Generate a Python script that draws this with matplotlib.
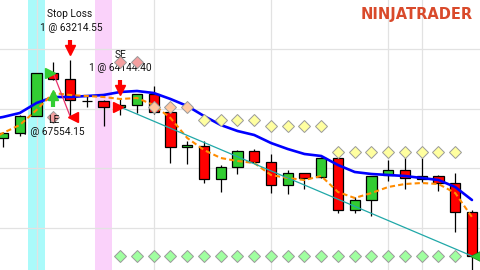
import numpy as np
import matplotlib
matplotlib.use("Agg")
import matplotlib.pyplot as plt

# candle data (price units), one entry per bar
opens  = [132, 137, 154, 197, 191, 169, 169, 163, 165, 176, 158, 123, 124, 91, 103,
          119, 108, 85, 97, 93, 112, 60, 70, 95, 100, 91, 94, 87, 58]
highs  = [138, 155, 197, 208, 210, 175, 170, 171, 176, 184, 158, 129, 129, 105, 120,
          121, 116, 100, 97, 113, 113, 73, 94, 110, 113, 112, 95, 97, 60]
lows   = [123, 134, 154, 190, 154, 163, 144, 155, 157, 156, 107, 106, 87, 78, 96,
          107, 77, 76, 81, 92, 57, 57, 54, 89, 81, 88, 79, 38, -5]
closes = [137, 154, 197, 191, 170, 169, 163, 165, 176, 158, 123, 125, 91, 103, 119,
          108, 85, 97, 92, 112, 60, 70, 94, 100, 92, 94, 87, 58, 14]

# indicator lines, starting one bar before the first candle
line_idx = list(range(-1, 29))
sma_blue = [150, 153, 157, 167, 173, 173, 174, 175, 178, 179, 177, 171, 164, 154, 145,
            139, 135, 127, 121, 116, 114, 105, 98, 96, 95, 94, 92, 90, 83, 70]
ema_orange = [128, 137, 145, 160, 177, 175, 174, 173, 171, 172, 165, 152, 132, 120, 112,
              109, 107, 95, 92, 90, 94, 78, 72, 77, 83, 86, 87, 86, 77, 53]

# trend line (start bar, start price, end bar, end price)
trend_x = [7, 28]
trend_y = [163, 14]

# trade line long entry -> stop loss exit
trade_x = [3, 4]
trade_y = [197, 154]

# diamond rows
pink_x, pink_y = [7, 8, 3], [208, 208, 153]
peach_x, peach_y = [9, 10, 11], [163, 163, 163]
yellow_x = list(range(12, 28))
yellow_y = [150, 150, 150, 150, 144, 144, 144, 144, 118, 118, 118, 118, 118, 118, 118, 118]
green_x = list(range(7, 28))
green_y = [14] * 21

# horizontal / vertical grid
hgrid = [221, 161, 102, 42]
vgrid = [2, 9, 16, 23, 25]

fig = plt.figure(figsize=(4.8, 2.7), dpi=100)
ax = fig.add_axes([0, 0, 1, 1])
ax.set_xlim(-0.18, 28.48)
ax.set_ylim(0, 270)
ax.axis("off")

# session bands
ax.axvspan(1.5, 2.5, color="#aafafa", zorder=0, lw=0)
ax.axvspan(5.5, 6.5, color="#fad2fa", zorder=0, lw=0)

for g in hgrid:
    ax.axhline(g, color="#e2e2e2", lw=0.9, zorder=1)
for g in vgrid:
    ax.axvline(g, color="#e2e2e2", lw=0.9, zorder=1)

# candles
x = np.arange(len(opens))
o = np.array(opens)
c = np.array(closes)
colors = ["#32cd32" if cc > oo else ("#ff0000" if cc < oo else "black") for oo, cc in zip(o, c)]
ax.vlines(x, lows, highs, color="black", lw=0.9, zorder=3)
ax.bar(x, np.abs(c - o), bottom=np.minimum(o, c), width=0.62, color=colors,
       edgecolor="black", linewidth=0.9, zorder=3.5)

# indicators
ax.plot(line_idx, sma_blue, color="#0000ff", lw=1.9, zorder=4, solid_capstyle="round")
ax.plot(line_idx, ema_orange, color="#ff8c00", lw=1.5, ls=(0, (2.5, 1.5)), zorder=4)
ax.plot(trend_x, trend_y, color="#20a8a8", lw=0.9, zorder=4)
ax.plot(trade_x, trade_y, color="#e8306a", lw=0.9, zorder=4)

# diamonds
dkw = dict(marker="D", ms=6.4, ls="none", mec="#9a9a9a", mew=0.7, zorder=5)
ax.plot(pink_x[:2], pink_y[:2], mfc="#f4a0a0", **dkw)
ax.plot(pink_x[2:], pink_y[2:], mfc="#f4a0a0", **dict(dkw, zorder=2))
ax.plot(peach_x, peach_y, mfc="#ffc8a0", **dkw)
ax.plot(yellow_x, yellow_y, mfc="#ffffa0", **dkw)
ax.plot(green_x, green_y, mfc="#a0ffa0", **dkw)

# execution markers
ax.plot(2.82, 197, marker=">", ms=7, color="#32cd32", ls="none", zorder=6)
ax.plot(4.15, 153, marker="<", ms=7, color="#ff0000", ls="none", zorder=6)
ax.plot(6.84, 163, marker=">", ms=7, color="#ff0000", ls="none", zorder=6)
ax.plot(28.2, 14, marker="<", ms=7, color="#32cd32", mec="#208020", mew=0.5, ls="none", zorder=6)

# entry / exit arrows
ax.plot([3, 3], [163, 173], color="#32cd32", lw=3, zorder=6, solid_capstyle="butt")
ax.plot(3, 175, marker="^", ms=6.5, color="#32cd32", ls="none", zorder=6)
for ax_i, top in [(4, 230), (7, 190)]:
    ax.plot([ax_i, ax_i], [top, top - 7], color="#ff0000", lw=3, zorder=6, solid_capstyle="butt")
    ax.plot(ax_i, top - 10, marker="v", ms=6.5, color="#ff0000", ls="none", zorder=6)

# labels
tkw = dict(fontsize=7.3, family="Roboto", color="#111111", ha="center", va="center", zorder=2.5)
ax.text(4.0, 256, "Stop Loss", **tkw)
ax.text(4.1, 242, "1 @ 63214.55", **tkw)
ax.text(7.0, 215, "SE", **tkw)
ax.text(7.0, 202, "1 @ 64144.40", **tkw)
ax.text(3.0, 150, "LE", **tkw)
ax.text(3.0, 138, "1 @ 67554.15", **tkw)

ax.text(24.72, 255, "NINJATRADER", fontsize=10.5, fontweight="bold", color="#d94a2b",
        ha="center", va="center", zorder=7)

plt.savefig("out.png", dpi=100)
